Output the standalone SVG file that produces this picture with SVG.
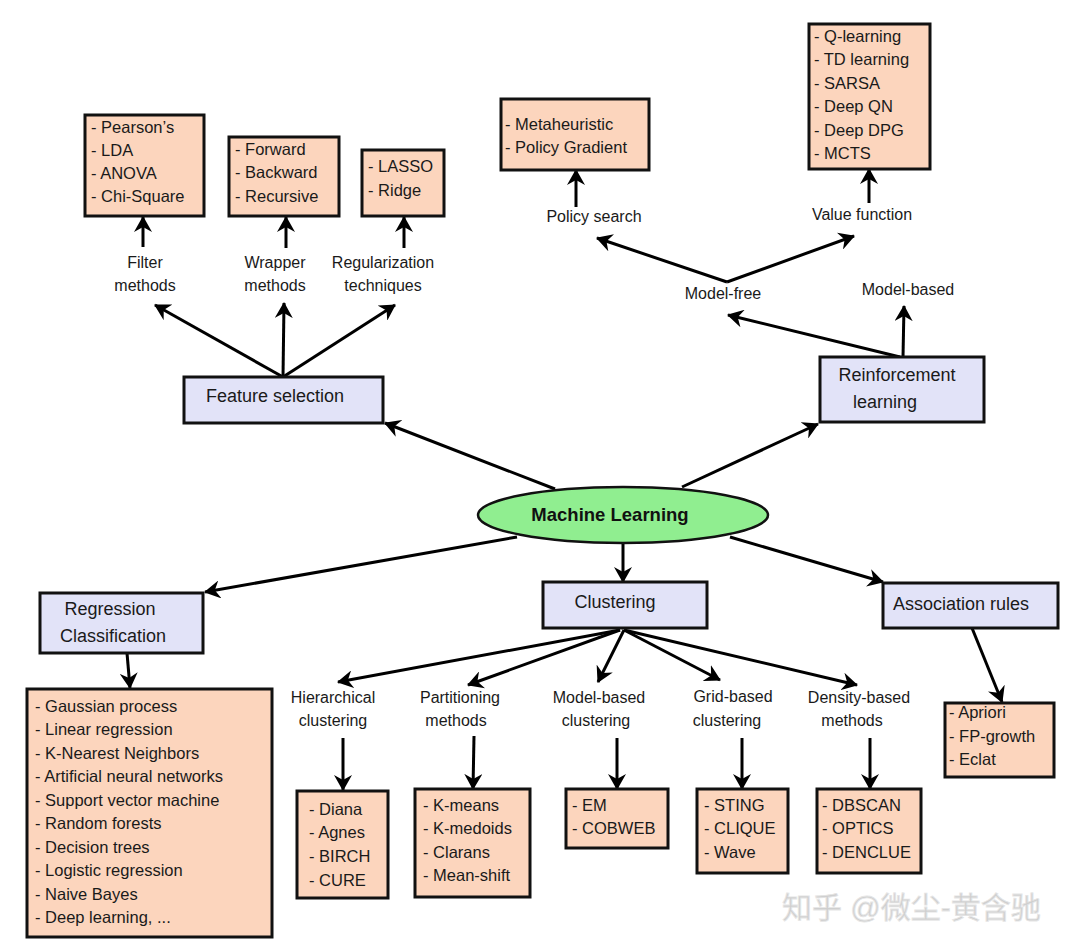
<svg xmlns="http://www.w3.org/2000/svg" width="1080" height="951" viewBox="0 0 1080 951">
<style>
.bg{fill:#ffffff}
.leaf{fill:#fcd5bd;stroke:#111;stroke-width:3}
.cat{fill:#e2e3f8;stroke:#111;stroke-width:3}
.root{fill:#90ee90;stroke:#111;stroke-width:2.5}
text{font-family:"Liberation Sans",Arial,sans-serif;fill:#1a1a1a}
.it{font-size:16.5px}
.lb{font-size:16px;text-anchor:middle}
.cl{font-size:18px}
.clm{font-size:18px;text-anchor:middle}
.rt{font-size:18.5px;font-weight:bold;text-anchor:middle;fill:#111}
.wm{font-family:"Liberation Sans","Noto Sans CJK SC",sans-serif;font-size:30px;fill:#cfcfcf;stroke:#e6e6e6;stroke-width:0.8}
.con line{stroke:#000;stroke-width:3;marker-end:url(#ah)}
</style>
<defs>
<marker id="ah" markerUnits="userSpaceOnUse" markerWidth="16" markerHeight="18" viewBox="0 0 16 18" refX="15" refY="9" orient="auto">
<path d="M0,0 L16,9 L0,18 L5,9 z" fill="#000"/>
</marker>
</defs>
<rect class="bg" x="0" y="0" width="1080" height="951"/>

<g class="con" id="connectors">
<line x1="555" y1="489" x2="385" y2="423"/>
<line x1="682" y1="487" x2="818" y2="424"/>
<line x1="623" y1="544" x2="623" y2="582"/>
<line x1="517" y1="537" x2="205" y2="592"/>
<line x1="730" y1="537" x2="883" y2="582"/>
<line x1="283" y1="377" x2="155" y2="305"/>
<line x1="283" y1="377" x2="284" y2="303"/>
<line x1="283" y1="377" x2="395" y2="305"/>
<line x1="143" y1="247" x2="143" y2="217"/>
<line x1="286" y1="248" x2="286" y2="217"/>
<line x1="404" y1="248" x2="404" y2="217"/>
<line x1="900" y1="357" x2="728" y2="315"/>
<line x1="903" y1="357" x2="904" y2="306"/>
<line x1="727" y1="282" x2="597" y2="238"/>
<line x1="727" y1="282" x2="854" y2="236"/>
<line x1="576" y1="207" x2="576" y2="170"/>
<line x1="869" y1="203" x2="869" y2="169"/>
<line x1="127" y1="653" x2="130" y2="688"/>
<line x1="620" y1="630" x2="338" y2="682"/>
<line x1="620" y1="630" x2="468" y2="685"/>
<line x1="624" y1="630" x2="598" y2="682"/>
<line x1="624" y1="630" x2="720" y2="680"/>
<line x1="624" y1="630" x2="857" y2="685"/>
<line x1="343" y1="738" x2="343" y2="790"/>
<line x1="474" y1="736" x2="473" y2="789"/>
<line x1="617" y1="738" x2="617" y2="789"/>
<line x1="742" y1="738" x2="742" y2="789"/>
<line x1="870" y1="738" x2="870" y2="789"/>
<line x1="972" y1="628" x2="1002" y2="702"/>
</g>

<g id="machine-learning">
<ellipse class="root" cx="623" cy="515" rx="145" ry="28"/>
<text class="rt" x="610" y="521">Machine Learning</text>
</g>

<g id="feature-selection">
<rect class="cat" x="184" y="377" width="199" height="46"/>
<text class="cl" x="206" y="402">Feature selection</text>
</g>
<g id="filter-methods">
<text class="lb" x="145" y="268">Filter</text>
<text class="lb" x="145" y="291">methods</text>
</g>
<g id="wrapper-methods">
<text class="lb" x="275" y="268">Wrapper</text>
<text class="lb" x="275" y="291">methods</text>
</g>
<g id="regularization">
<text class="lb" x="383" y="268">Regularization</text>
<text class="lb" x="383" y="291">techniques</text>
</g>
<g id="filter-list">
<rect class="leaf" x="85" y="115" width="119" height="101"/>
<text class="it" x="91" y="133">- Pearson’s</text>
<text class="it" x="91" y="156">- LDA</text>
<text class="it" x="91" y="179">- ANOVA</text>
<text class="it" x="91" y="202">- Chi-Square</text>
</g>
<g id="wrapper-list">
<rect class="leaf" x="229" y="137" width="110" height="79"/>
<text class="it" x="235" y="155">- Forward</text>
<text class="it" x="235" y="178">- Backward</text>
<text class="it" x="235" y="202">- Recursive</text>
</g>
<g id="regularization-list">
<rect class="leaf" x="362" y="150" width="82" height="66"/>
<text class="it" x="368" y="172">- LASSO</text>
<text class="it" x="368" y="196">- Ridge</text>
</g>

<g id="reinforcement-learning">
<rect class="cat" x="820" y="357" width="164" height="65"/>
<text class="clm" x="897" y="381">Reinforcement</text>
<text class="clm" x="885" y="408">learning</text>
</g>
<g id="model-free"><text class="lb" x="723" y="299">Model-free</text></g>
<g id="model-based"><text class="lb" x="908" y="295">Model-based</text></g>
<g id="policy-search"><text class="lb" x="594" y="222">Policy search</text></g>
<g id="value-function"><text class="lb" x="862" y="220">Value function</text></g>
<g id="policy-list">
<rect class="leaf" x="501" y="99" width="148" height="71"/>
<text class="it" x="505" y="130">- Metaheuristic</text>
<text class="it" x="505" y="153">- Policy Gradient</text>
</g>
<g id="value-list">
<rect class="leaf" x="809" y="24" width="121" height="145"/>
<text class="it" x="814" y="42">- Q-learning</text>
<text class="it" x="814" y="65">- TD learning</text>
<text class="it" x="814" y="89">- SARSA</text>
<text class="it" x="814" y="112">- Deep QN</text>
<text class="it" x="814" y="136">- Deep DPG</text>
<text class="it" x="814" y="159">- MCTS</text>
</g>

<g id="regression-classification">
<rect class="cat" x="40" y="593" width="163" height="60"/>
<text class="clm" x="110" y="615">Regression</text>
<text class="clm" x="113" y="642">Classification</text>
</g>
<g id="regression-list">
<rect class="leaf" x="27" y="689" width="245" height="248"/>
<text class="it" x="35" y="712">- Gaussian process</text>
<text class="it" x="35" y="735">- Linear regression</text>
<text class="it" x="35" y="759">- K-Nearest Neighbors</text>
<text class="it" x="35" y="782">- Artificial neural networks</text>
<text class="it" x="35" y="806">- Support vector machine</text>
<text class="it" x="35" y="829">- Random forests</text>
<text class="it" x="35" y="853">- Decision trees</text>
<text class="it" x="35" y="876">- Logistic regression</text>
<text class="it" x="35" y="900">- Naive Bayes</text>
<text class="it" x="35" y="923">- Deep learning, ...</text>
</g>

<g id="clustering">
<rect class="cat" x="543" y="582" width="164" height="46"/>
<text class="clm" x="615" y="608">Clustering</text>
</g>
<g id="hierarchical"><text class="lb" x="333" y="703">Hierarchical</text><text class="lb" x="333" y="726">clustering</text></g>
<g id="partitioning"><text class="lb" x="460" y="703">Partitioning</text><text class="lb" x="456" y="726">methods</text></g>
<g id="model-based-clustering"><text class="lb" x="599" y="703">Model-based</text><text class="lb" x="596" y="726">clustering</text></g>
<g id="grid-based"><text class="lb" x="733" y="702">Grid-based</text><text class="lb" x="727" y="726">clustering</text></g>
<g id="density-based"><text class="lb" x="859" y="703">Density-based</text><text class="lb" x="852" y="726">methods</text></g>

<g id="hierarchical-list">
<rect class="leaf" x="297" y="791" width="91" height="107"/>
<text class="it" x="309" y="815">- Diana</text>
<text class="it" x="309" y="838">- Agnes</text>
<text class="it" x="309" y="862">- BIRCH</text>
<text class="it" x="309" y="886">- CURE</text>
</g>
<g id="partitioning-list">
<rect class="leaf" x="415" y="789" width="115" height="108"/>
<text class="it" x="423" y="811">- K-means</text>
<text class="it" x="423" y="834">- K-medoids</text>
<text class="it" x="423" y="858">- Clarans</text>
<text class="it" x="423" y="881">- Mean-shift</text>
</g>
<g id="model-based-list">
<rect class="leaf" x="566" y="789" width="102" height="59"/>
<text class="it" x="572" y="811">- EM</text>
<text class="it" x="572" y="834">- COBWEB</text>
</g>
<g id="grid-list">
<rect class="leaf" x="697" y="789" width="91" height="84"/>
<text class="it" x="704" y="811">- STING</text>
<text class="it" x="704" y="834">- CLIQUE</text>
<text class="it" x="704" y="858">- Wave</text>
</g>
<g id="density-list">
<rect class="leaf" x="817" y="789" width="104" height="84"/>
<text class="it" x="822" y="811">- DBSCAN</text>
<text class="it" x="822" y="834">- OPTICS</text>
<text class="it" x="822" y="858">- DENCLUE</text>
</g>

<g id="association-rules">
<rect class="cat" x="883" y="583" width="175" height="45"/>
<text class="cl" x="893" y="610">Association rules</text>
</g>
<g id="association-list">
<rect class="leaf" x="945" y="703" width="109" height="74"/>
<text class="it" x="949" y="718">- Apriori</text>
<text class="it" x="949" y="742">- FP-growth</text>
<text class="it" x="949" y="765">- Eclat</text>
</g>

<text class="wm" x="782" y="918">知乎 @微尘-黄含驰</text>
</svg>
